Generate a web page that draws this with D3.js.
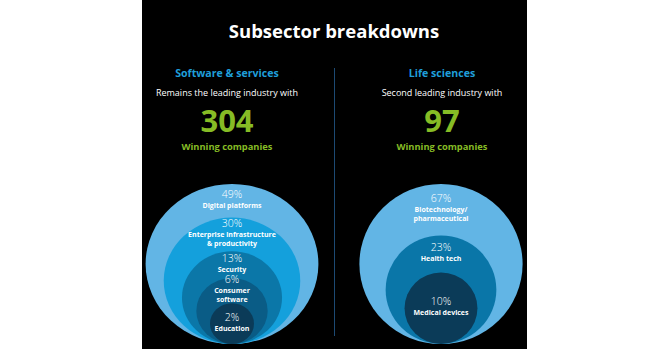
<!DOCTYPE html>
<html><head><meta charset="utf-8">
<script src="https://cdn.jsdelivr.net/npm/d3@7"></script>
<style>html,body{margin:0;padding:0;background:#fff;}svg{display:block;font-family:"Open Sans",sans-serif;}</style>
</head><body>
<svg id="c" width="669" height="349"></svg>
<script>
const title = "Subsector breakdowns";
const sectors = ["Software & services", "Life sciences"];
const subtitles = ["Remains the leading industry with", "Second leading industry with"];
const totals = [304, 97];
const totalLabel = "Winning companies";
const softwareLabels = ["Digital platforms", "Enterprise infrastructure\n& productivity", "Security", "Consumer\nsoftware", "Education"];
const softwareShares = [49, 30, 13, 6, 2];
const lifeLabels = ["Biotechnology/\npharmaceutical", "Health tech", "Medical devices"];
const lifeShares = [67, 23, 10];

const svg = d3.select("#c");
const H = 349;
svg.append("rect").attr("x", 142).attr("y", 0).attr("width", 385).attr("height", H).attr("fill", "#000");

svg.append("text").attr("x", 334).attr("y", 38).attr("text-anchor", "middle")
  .attr("fill", "#fff").attr("font-weight", 700).attr("font-size", 18.5).text(title);

svg.append("line").attr("x1", 334.5).attr("x2", 334.5).attr("y1", 68).attr("y2", 336)
  .attr("stroke", "#1d4a73").attr("stroke-width", 1);

const panelX = d3.scalePoint().domain(sectors).range([227, 442]);
const circleX = d3.scalePoint().domain(sectors).range([232, 441]);
const stretch = [1.08, 1.02];
const colorsLeft = ["#62b5e5", "#14a0dc", "#0b77a8", "#0a5c86", "#0b3b58"];
const colorsRight = ["#62b5e5", "#0a76a8", "#0b3b58"];

const panels = [
  {name: sectors[0], sub: subtitles[0], total: totals[0], labels: softwareLabels, shares: softwareShares, colors: colorsLeft, sx: stretch[0]},
  {name: sectors[1], sub: subtitles[1], total: totals[1], labels: lifeLabels, shares: lifeShares, colors: colorsRight, sx: stretch[1]}
];

const bottomY = 344;
const rScale = d3.scalePow().exponent(0.35).domain([0, 100]).range([0, 80]);

panels.forEach(p => {
  const tx = panelX(p.name);
  const g = svg.append("g");
  g.append("text").attr("x", tx).attr("y", 77).attr("text-anchor", "middle").attr("fill", "#1f9ed9")
    .attr("font-weight", 700).attr("font-size", 10.6).text(p.name);
  g.append("text").attr("x", tx).attr("y", 96).attr("text-anchor", "middle").attr("fill", "#fff")
    .attr("font-size", 9).text(p.sub);
  g.append("text").attr("x", tx).attr("y", 132).attr("text-anchor", "middle").attr("fill", "#86bc25")
    .attr("font-weight", 700).attr("font-size", 31).text(p.total);
  g.append("text").attr("x", tx).attr("y", 150).attr("text-anchor", "middle").attr("fill", "#86bc25")
    .attr("font-weight", 700).attr("font-size", 9.3).text(totalLabel);

  const cx = circleX(p.name);
  const cum = p.shares.map((s, i) => d3.sum(p.shares.slice(i)));
  const rings = p.shares.map((s, i) => ({share: s, label: p.labels[i], cum: cum[i], color: p.colors[i]}));
  g.selectAll("ellipse.ring").data(rings).join("ellipse").attr("class", "ring")
    .attr("cx", cx).attr("cy", d => bottomY - rScale(d.cum))
    .attr("rx", d => rScale(d.cum) * p.sx).attr("ry", d => rScale(d.cum))
    .attr("fill", d => d.color);
  rings.forEach((d, i) => {
    const top = bottomY - 2 * rScale(d.cum);
    const nextTop = i + 1 < rings.length ? bottomY - 2 * rScale(rings[i + 1].cum) : bottomY;
    const mid = (top + nextTop) / 2 - 2;
    const lines = d.label.split("\n");
    const blockH = 10 + 8.5 * (lines.length - 1);
    const pctY = mid - blockH / 2 + 4;
    g.append("text").attr("x", cx).attr("y", pctY).attr("text-anchor", "middle").attr("fill", "#fff")
      .attr("font-size", 10.5).attr("font-weight", 300).text(d.share + "%");
    lines.forEach((line, j) => {
      g.append("text").attr("x", cx).attr("y", pctY + 10 + 8.5 * j).attr("text-anchor", "middle").attr("fill", "#fff")
        .attr("font-size", 7).attr("font-weight", 700).text(line);
    });
  });
});
</script>
</body></html>
